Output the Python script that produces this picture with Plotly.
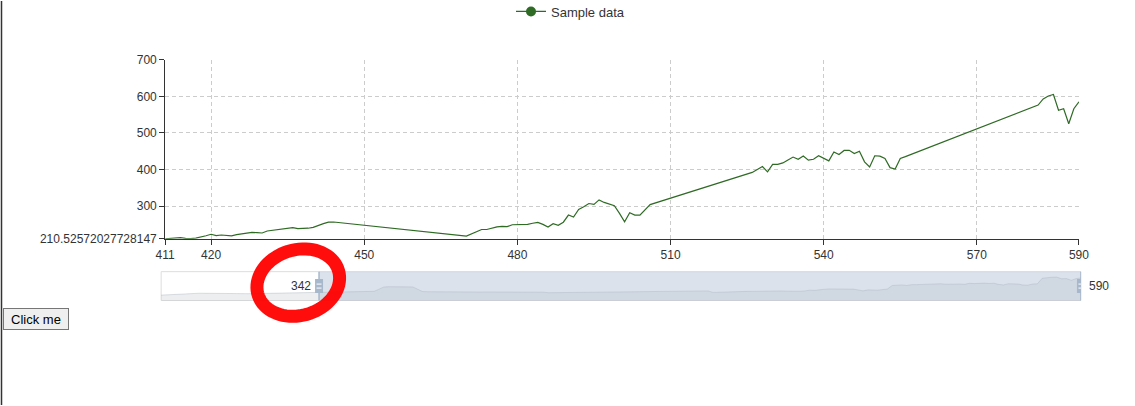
import numpy as np
import plotly.graph_objects as go

# layout is designed in the 1135x406 pixel space of the reference
W, H = 1135, 406
FIG_W, FIG_H = 1156, 418
FONT = "Liberation Sans, Arial, sans-serif"
GREEN = "#2f6b25"

series_name = "Sample data"

# x positions of the samples (gaps are drawn as straight segments)
x_values = [
    411, 412, 413, 414, 415, 416, 417, 418, 419, 420, 421, 422, 423, 424, 425, 426, 427,
    428, 429, 430, 431, 432, 433, 434, 435, 436, 437, 438, 439, 440, 441, 442, 443, 444,
    470, 471, 472, 473, 474, 475, 476, 477, 478, 479, 480, 481, 482, 483, 484, 485, 486,
    487, 488, 489, 490, 491, 492, 493, 494, 495, 496, 497, 498, 499, 500, 501, 502, 503,
    504, 505, 506,
    526, 527, 528, 529, 530, 531, 532, 533, 534, 535, 536, 537, 538, 539, 540, 541, 542,
    543, 544, 545, 546, 547, 548, 549, 550, 551, 552, 553, 554, 555, 556,
    582, 583, 584, 585, 586, 587, 588, 589, 590,
]

y_values = [
    210.52572027728147, 211.5, 212.5, 213.8, 212.0, 211.0, 212.5, 215.0, 219.0, 223.0,
    219.5, 221.0, 220.0, 218.5, 222.0, 224.5, 227.5, 228.0, 227.5, 226.5, 232.0, 234.0,
    236.0, 237.5, 239.5, 241.0, 238.3, 238.3, 239.5, 242.0, 248.0, 252.0, 256.0, 256.5,
    218.0, 224.0, 232.0, 236.0, 236.0, 240.0, 243.0, 244.6, 244.0, 249.0, 249.0, 248.0,
    250.0, 253.0, 255.6, 250.0, 243.0, 252.0, 247.5, 256.0, 275.5, 270.0, 291.0, 298.0,
    307.0, 304.6, 317.0, 310.0, 306.0, 301.0, 280.0, 257.0, 282.0, 275.5, 275.5, 289.0,
    304.0,
    392.0, 400.0, 408.0, 393.5, 414.0, 414.0, 418.0, 426.0, 434.0, 428.0, 437.0, 425.5,
    428.0, 437.5, 430.0, 423.5, 448.0, 441.0, 452.0, 452.5, 443.5, 450.0, 421.0, 407.0,
    437.5, 436.5, 430.0, 405.0, 401.0, 430.0, 435.0,
    576.0, 593.0, 601.0, 605.0, 562.0, 566.0, 525.0, 566.0, 585.0,
]

# values before the zoom window, only seen in the slider's data shadow
early_values = [
    150, 158, 165, 172, 178, 184, 190, 195, 198,
    196, 193, 190, 188, 187, 189, 191, 190, 188, 186, 188, 190, 192, 191, 193, 195,
    196, 197, 198, 200, 202, 204, 206, 208,
    215, 222, 228, 232, 235, 238, 240, 241, 242, 243, 244, 245,
    300, 355, 362, 365, 363, 360, 358, 355, 300,
    240, 236, 234, 232, 233, 231, 230, 232, 234, 233, 231, 230, 229, 231, 232, 230,
    229, 228, 230, 231, 229, 228, 227, 226, 225, 224,
]

zoom_start = 342
full_x_min = 290.6

x_ticks = [420, 450, 480, 510, 540, 570]
y_ticks = [300, 400, 500, 600, 700]


def fx(p):
    return p / W


def fy(p):
    return 1 - p / H


x_min, x_max = min(x_values), max(x_values)
y_min = min(y_values)

shadow = early_values + y_values
s_pad = 0.3 * (max(shadow) - min(shadow))
s_lo, s_hi = min(shadow) - s_pad, max(shadow) + s_pad
s_mid = (s_lo + s_hi) / 2

fig = go.Figure()

fig.add_trace(go.Scatter(
    x=x_values, y=y_values, mode="lines", name=series_name, showlegend=False,
    line=dict(color=GREEN, width=1.2),
))
fig.add_trace(go.Scatter(
    x=[None], y=[None], mode="lines+markers", name=series_name,
    line=dict(color=GREEN, width=1.2), marker=dict(size=10, color=GREEN),
))
fig.add_trace(go.Scatter(
    x=list(range(len(shadow))), y=shadow, xaxis="x2", yaxis="y2", mode="lines",
    line=dict(color="rgba(47,69,84,0.3)", width=0.5), fill="tozeroy",
    fillcolor="rgba(47,69,84,0.09)", showlegend=False, hoverinfo="skip",
))

axis_common = dict(
    showline=True, linecolor="#333", linewidth=1, ticks="outside", ticklen=5,
    tickcolor="#333", showgrid=True, gridcolor="#ccc", griddash="4px,3px",
    zeroline=False, tickfont=dict(family=FONT, size=12, color="#333"),
)

shapes = [
    # slider frame
    dict(type="rect", xref="x2 domain", yref="y2 domain", x0=0, x1=1, y0=0, y1=1,
         line=dict(color="#ddd", width=1), layer="below"),
    # selected window
    dict(type="rect", xref="x3", yref="y2 domain", x0=zoom_start, x1=x_max, y0=0, y1=1,
         fillcolor="rgba(167,183,204,0.4)", line=dict(width=0), layer="above"),
    # left border of the page
    dict(type="line", xref="paper", yref="paper", x0=fx(0.5), x1=fx(0.5), y0=0, y1=1,
         line=dict(color="#333", width=1.5)),
]
for hx in (zoom_start, x_max):
    shapes.append(dict(type="line", xref="x3", yref="y2 domain", x0=hx, x1=hx, y0=0, y1=1,
                       line=dict(color="#a7b7cc", width=1.5)))
    shapes.append(dict(type="rect", xref="x3", yref="y2", xsizemode="pixel", ysizemode="pixel",
                       xanchor=hx, yanchor=s_mid, x0=-4, x1=4, y0=-7, y1=7,
                       fillcolor="#a7b7cc", line=dict(width=0)))
    for dy in (-2, 2):
        shapes.append(dict(type="line", xref="x3", yref="y2", xsizemode="pixel",
                           ysizemode="pixel", xanchor=hx, yanchor=s_mid, x0=-2.5, x1=2.5,
                           y0=dy, y1=dy, line=dict(color="white", width=1)))

# red hand-drawn circle around the left handle label
t = np.linspace(-1.9, -1.9 + 2 * np.pi * 1.05, 80)
cx, cy, rx, ry, rot = 297, 283, 42, 33, -0.3
px = cx + rx * np.cos(t) * np.cos(rot) - ry * np.sin(t) * np.sin(rot)
py = cy + rx * np.cos(t) * np.sin(rot) + ry * np.sin(t) * np.cos(rot)
path = "M " + " L ".join(f"{fx(a):.5f},{fy(b):.5f}" for a, b in zip(px, py))
shapes.append(dict(type="path", xref="paper", yref="paper", path=path,
                   line=dict(color="rgba(255,0,0,0.95)", width=13)))

fig.update_layout(
    width=FIG_W, height=FIG_H,
    margin=dict(l=0, r=0, t=0, b=0),
    paper_bgcolor="white", plot_bgcolor="white",
    font=dict(family=FONT, size=12, color="#333"),
    xaxis=dict(axis_common, domain=[fx(164), fx(1077)], range=[x_min, x_max],
               tickvals=[x_min] + x_ticks + [x_max], anchor="y"),
    yaxis=dict(axis_common, domain=[fy(239), fy(59)], range=[y_min, y_ticks[-1]],
               tickvals=[y_min] + y_ticks,
               ticktext=[repr(y_min)] + [str(v) for v in y_ticks], anchor="x"),
    xaxis2=dict(domain=[fx(160), fx(1079)], range=[0, len(shadow) - 1], visible=False,
                anchor="y2"),
    yaxis2=dict(domain=[fy(301), fy(272)], range=[s_lo, s_hi], visible=False, anchor="x2"),
    xaxis3=dict(domain=[fx(160), fx(1079)], range=[full_x_min, x_max], visible=False,
                overlaying="x2", anchor="y2"),
    legend=dict(orientation="h", x=fx(569), xanchor="center", y=fy(-4.5), yanchor="top",
                font=dict(family=FONT, size=13, color="#333")),
    shapes=shapes,
    annotations=[
        dict(text=str(zoom_start), xref="x3", yref="y2 domain", x=zoom_start, y=0.5,
             xanchor="right", xshift=-6, showarrow=False, font=dict(size=12, color="#333")),
        dict(text=str(x_max), xref="x3", yref="y2 domain", x=x_max, y=0.5,
             xanchor="left", xshift=6, showarrow=False, font=dict(size=12, color="#333")),
        # the page's "Click me" button
        dict(text="Click me", xref="paper", yref="paper", x=fx(1.5), y=fy(309),
             xanchor="left", yanchor="top", showarrow=False, width=64, height=20,
             bgcolor="#efefef", bordercolor="#767676", borderwidth=1, borderpad=0,
             font=dict(family=FONT, size=13, color="black")),
    ],
)

fig.write_html("out.html", config={"displayModeBar": False},
               post_script="document.body.style.margin = '-6px 0 0 -9px';")
